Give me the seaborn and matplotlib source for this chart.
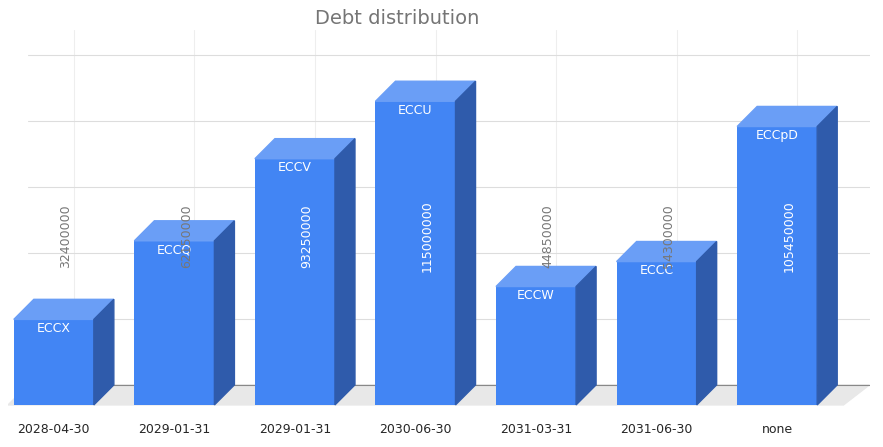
import matplotlib
matplotlib.use("Agg")
import matplotlib.pyplot as plt
from matplotlib.patches import Polygon
import seaborn as sns
import pandas as pd

dates = ["2028-04-30", "2029-01-31", "2029-01-31", "2030-06-30", "2031-03-31", "2031-06-30", "none"]
series = ["ECCX", "ECCQ", "ECCV", "ECCU", "ECCW", "ECCC", "ECCpD"]
values = [32400000, 62150000, 93250000, 115000000, 44850000, 54300000, 105450000]

df = pd.DataFrame({"pos": range(len(dates)), "value": values})

sns.set_style("white")
fig = plt.figure(figsize=(8.83, 4.47), dpi=100)
ax = fig.add_axes([8 / 883, 27 / 447, 862 / 883, 390 / 447])

front, top, side = "#4285f4", "#6a9ef6", "#2f5bab"
dx, dy = 0.166, 7.6e6  # depth of the 3D effect

sns.barplot(data=df, x="pos", y="value", native_scale=True, width=0.664,
            color=front, saturation=1, ax=ax, zorder=2)
bars = list(ax.containers[0])

ax.set_xlim(-0.38, 6.77)
ax.set_ylim(-5.7e6, 142e6)

# floor
ax.add_patch(Polygon([(-0.38, 0), (6.55, 0), (6.55 + dx * 1.3, dy), (-0.38 + dx, dy)],
                     closed=True, color="#e8e8e8", zorder=0))
# back gridlines
for k in range(6):
    ax.plot([-0.38 + dx, 6.77], [dy + k * 25e6] * 2,
            color="#888888" if k == 0 else "#dddddd", lw=0.8, zorder=0.5)
for i in range(len(dates)):
    ax.plot([i + dx, i + dx], [dy, 142e6], color="#eeeeee", lw=0.8, zorder=0.4)

for i, p in enumerate(bars):
    x0, w, h = p.get_x(), p.get_width(), p.get_height()
    p.set_edgecolor("none")
    ax.add_patch(Polygon([(x0, h), (x0 + w, h), (x0 + w + dx, h + dy), (x0 + dx, h + dy)],
                         closed=True, color=top, zorder=2))
    ax.add_patch(Polygon([(x0 + w, 0), (x0 + w + dx, dy), (x0 + w + dx, h + dy), (x0 + w, h)],
                         closed=True, color=side, zorder=2))
    ax.text(x0 + w / 2, h - 3.5e6, series[i], color="white", fontsize=9,
            ha="center", va="center", zorder=3)
    ax.text(x0 + w / 2 + dx * 0.6, 64e6, str(values[i]), rotation=90,
            color="white" if values[i] > 80e6 else "#777777", fontsize=9,
            ha="center", va="center", zorder=3)

ax.set_xticks(range(len(dates)))
ax.set_xticklabels(dates, fontsize=9)
ax.tick_params(axis="x", length=0, pad=2)
ax.set_yticks([])
ax.set_xlabel("")
ax.set_ylabel("")
for s in ax.spines.values():
    s.set_visible(False)

fig.text(397 / 883, 1 - 18 / 447, "Debt distribution", color="#757575",
         fontsize=14, ha="center", va="center")

fig.savefig("out.png", dpi=100)
